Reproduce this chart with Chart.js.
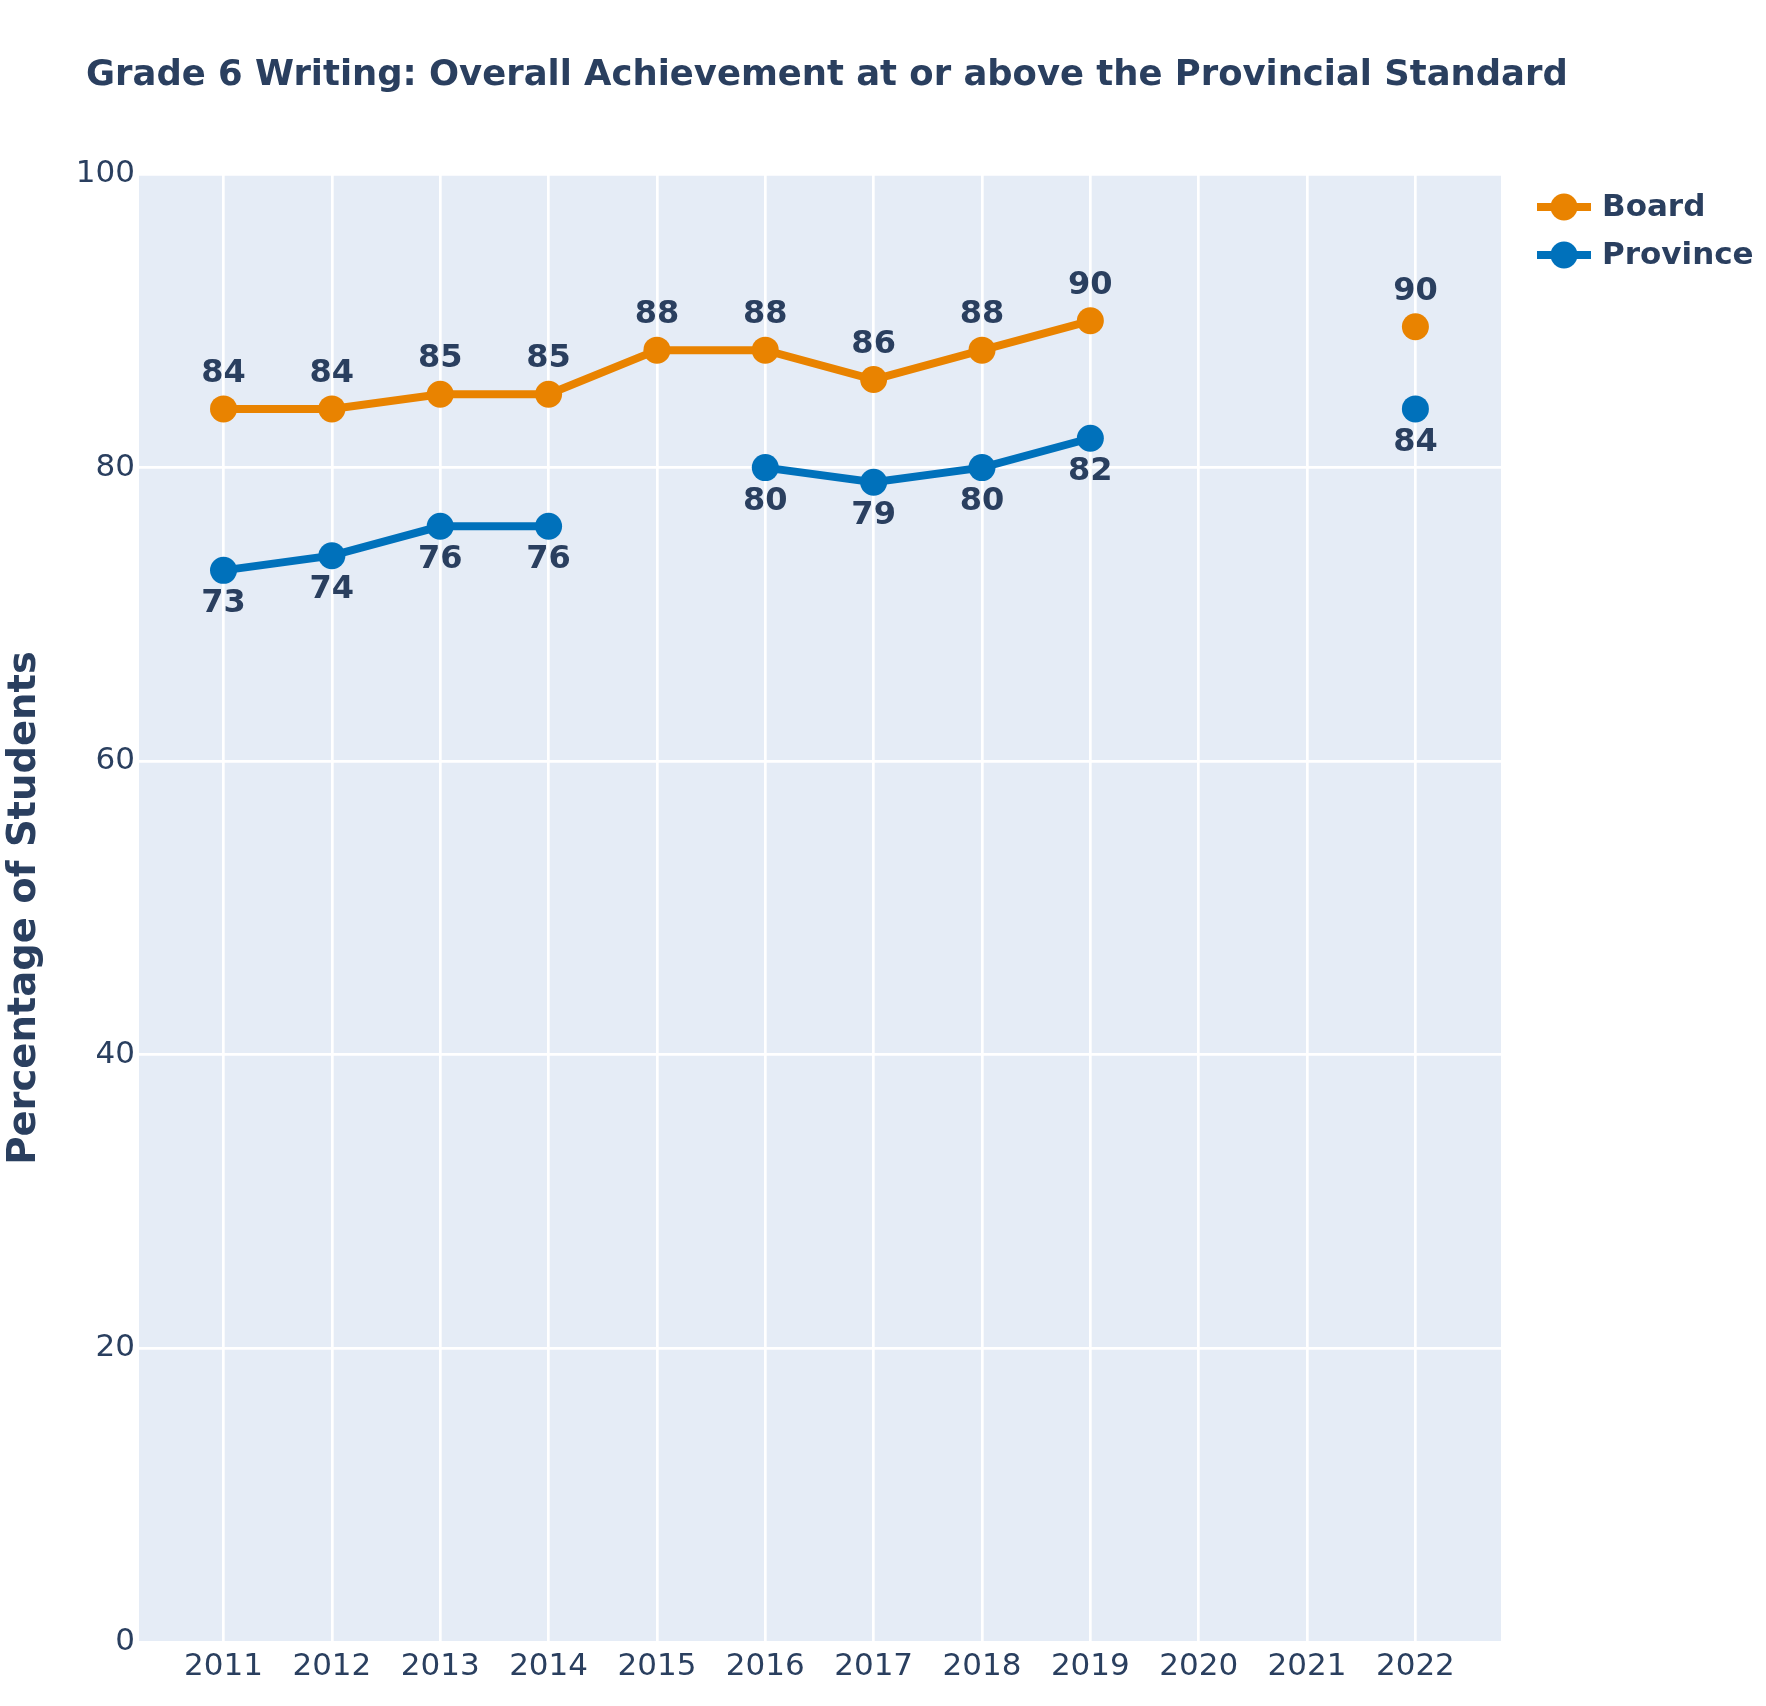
<!DOCTYPE html>
<html>
<head>
<meta charset="utf-8">
<script src="https://cdn.jsdelivr.net/npm/chart.js@4.4.0/dist/chart.umd.min.js"></script>
<style>
  body { margin: 0; background: #ffffff; }
  #myChart { display: block; }
</style>
</head>
<body>
<canvas id="myChart" width="1766" height="1706" style="width:1766px;height:1706px"></canvas>
<script>
// chart data
var years = [2011, 2012, 2013, 2014, 2015, 2016, 2017, 2018, 2019, 2020, 2021, 2022];
var boardValues = [84, 84, 85, 85, 88, 88, 86, 88, 90, null, null, 89.6];
var provinceValues = [73, 74, 76, 76, null, 80, 79, 80, 82, null, null, 84];
var yTicks = [0, 20, 40, 60, 80, 100];

var chartTitle = 'Grade 6 Writing: Overall Achievement at or above the Provincial Standard';
var yTitle = 'Percentage of Students';
var seriesNames = ['Board', 'Province'];

var FONT = "'DejaVu Sans', Verdana, sans-serif";
var TEXT = '#2a3f5f';
var ORANGE = '#e98300';
var BLUE = '#0071bb';

function toPoints(values) {
    return years.map(function (y, i) {
        return { x: y, y: values[i] };
    });
}

window.onload = function () {

    // background of plot area + title, axis title and legend
    var decorations = {
        id: 'decorations',
        beforeDraw: function (chart) {
            var c = chart.ctx, a = chart.chartArea;
            c.save();
            c.fillStyle = '#e5ecf6';
            c.fillRect(a.left, a.top, a.right - a.left, a.bottom - a.top);
            c.restore();
        },
        afterDraw: function (chart) {
            var c = chart.ctx, a = chart.chartArea;
            c.save();
            c.fillStyle = TEXT;
            c.textBaseline = 'alphabetic';
            c.textAlign = 'left';
            c.font = 'bold 35.4px ' + FONT;
            c.fillText(chartTitle, 86, 85);

            // y axis title
            c.save();
            c.translate(35, (a.top + a.bottom) / 2);
            c.rotate(-Math.PI / 2);
            c.textAlign = 'center';
            c.font = 'bold 38.5px ' + FONT;
            c.fillText(yTitle, 0, 0);
            c.restore();

            // legend
            var colors = [ORANGE, BLUE];
            var rows = [207, 255];
            for (var i = 0; i < 2; i++) {
                c.strokeStyle = colors[i];
                c.lineWidth = 8;
                c.beginPath();
                c.moveTo(1537, rows[i]);
                c.lineTo(1591, rows[i]);
                c.stroke();
                c.fillStyle = colors[i];
                c.beginPath();
                c.arc(1564, rows[i], 13.5, 0, Math.PI * 2);
                c.fill();
                c.fillStyle = TEXT;
                c.font = 'bold 31px ' + FONT;
                c.textBaseline = 'middle';
                c.fillText(seriesNames[i], 1602, rows[i] + 1);
            }
            c.restore();
        },
        // value labels above / below the markers
        afterDatasetsDraw: function (chart) {
            var c = chart.ctx;
            c.save();
            c.fillStyle = TEXT;
            c.font = 'bold 32px ' + FONT;
            c.textAlign = 'center';
            c.textBaseline = 'alphabetic';
            chart.data.datasets.forEach(function (ds, di) {
                var meta = chart.getDatasetMeta(di);
                meta.data.forEach(function (pt, i) {
                    var v = ds.data[i].y;
                    if (v === null) return;
                    var off = di === 0 ? -27 : 42;
                    c.fillText(String(Math.round(v)), pt.x, pt.y + off);
                });
            });
            c.restore();
        }
    };

    var ctx = document.getElementById('myChart').getContext('2d');
    var myChart = new Chart(ctx, {
        type: 'line',
        data: {
            datasets: [{
                label: seriesNames[0],
                data: toPoints(boardValues),
                borderColor: ORANGE,
                backgroundColor: ORANGE,
                borderWidth: 8,
                pointRadius: 13.5,
                pointBorderWidth: 0,
                spanGaps: false
            }, {
                label: seriesNames[1],
                data: toPoints(provinceValues),
                borderColor: BLUE,
                backgroundColor: BLUE,
                borderWidth: 8,
                pointRadius: 13.5,
                pointBorderWidth: 0,
                spanGaps: false
            }]
        },
        options: {
            responsive: false,
            animation: false,
            devicePixelRatio: 1,
            layout: { padding: { left: 0, top: 174, right: 265, bottom: 0 } },
            plugins: {
                legend: { display: false },
                title: { display: false },
                tooltip: { enabled: false }
            },
            scales: {
                x: {
                    type: 'linear',
                    min: 2010.22,
                    max: 2022.79,
                    afterBuildTicks: function (axis) {
                        axis.ticks = years.map(function (y) { return { value: y }; });
                    },
                    afterFit: function (axis) { axis.height = 64; },
                    ticks: {
                        color: TEXT,
                        font: { family: FONT, size: 31 },
                        padding: 6,
                        maxRotation: 0,
                        autoSkip: false,
                        callback: function (v) { return String(v); }
                    },
                    grid: { color: '#ffffff', lineWidth: 2.7, drawTicks: false },
                    border: { display: false }
                },
                y: {
                    min: 0,
                    max: 100,
                    afterBuildTicks: function (axis) {
                        axis.ticks = yTicks.map(function (v) { return { value: v }; });
                    },
                    afterFit: function (axis) { axis.width = 139; },
                    ticks: {
                        color: TEXT,
                        font: { family: FONT, size: 31 },
                        padding: 4
                    },
                    grid: { color: '#ffffff', lineWidth: 2.7, drawTicks: false },
                    border: { display: false }
                }
            }
        },
        plugins: [decorations]
    });
};
</script>
</body>
</html>
